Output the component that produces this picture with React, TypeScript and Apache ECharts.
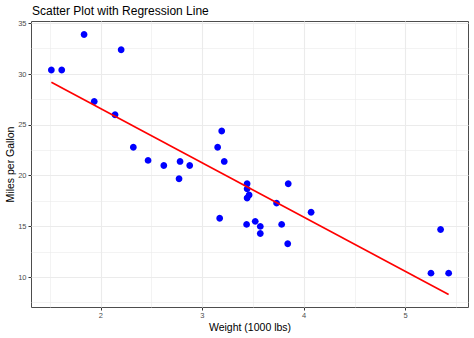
import React, { useEffect, useRef } from "react";
import * as echarts from "echarts";

// mtcars: weight (1000 lbs) and miles per gallon
const weights = [
  2.62, 2.875, 2.32, 3.215, 3.44, 3.46, 3.57, 3.19, 3.15, 3.44, 3.44, 4.07, 3.73, 3.78, 5.25, 5.424,
  5.345, 2.2, 1.615, 1.835, 2.465, 3.52, 3.435, 3.84, 3.845, 1.935, 2.14, 1.513, 3.17, 2.77, 3.57, 2.78,
];
const mpg = [
  21.0, 21.0, 22.8, 21.4, 18.7, 18.1, 14.3, 24.4, 22.8, 19.2, 17.8, 16.4, 17.3, 15.2, 10.4, 10.4,
  14.7, 32.4, 30.4, 33.9, 21.5, 15.5, 15.2, 13.3, 19.2, 27.3, 26.0, 30.4, 15.8, 19.7, 15.0, 21.4,
];
const xTicks = [2, 3, 4, 5];
const xMinorTicks = [1.5, 2.5, 3.5, 4.5, 5.5];
const yTicks = [10, 15, 20, 25, 30, 35];
const yMinorTicks = [7.5, 12.5, 17.5, 22.5, 27.5, 32.5];

export default function App() {
  const ref = useRef<HTMLDivElement>(null);
  useEffect(() => {
    if (!ref.current) return;
    const chart = echarts.init(ref.current, null, { renderer: "svg" });

    // least squares fit
    const n = weights.length;
    const mx = weights.reduce((a, b) => a + b, 0) / n;
    const my = mpg.reduce((a, b) => a + b, 0) / n;
    let sxy = 0;
    let sxx = 0;
    for (let i = 0; i < n; i++) {
      sxy += (weights[i] - mx) * (mpg[i] - my);
      sxx += (weights[i] - mx) ** 2;
    }
    const slope = sxy / sxx;
    const icpt = my - slope * mx;
    const wMin = Math.min(...weights);
    const wMax = Math.max(...weights);
    const fit = [
      [wMin, icpt + slope * wMin],
      [wMax, icpt + slope * wMax],
    ];
    const yVals = [...mpg, fit[0][1], fit[1][1]];
    const yLo = Math.min(...yVals);
    const yHi = Math.max(...yVals);
    const xPad = (wMax - wMin) * 0.05;
    const yPad = (yHi - yLo) * 0.05;

    const gridColor = "#EBEBEB";
    const gridLines = [
      ...xMinorTicks.map((v) => ({ xAxis: v, lineStyle: { color: gridColor, width: 0.6, type: "solid" } })),
      ...yMinorTicks.map((v) => ({ yAxis: v, lineStyle: { color: gridColor, width: 0.6, type: "solid" } })),
      ...xTicks.map((v) => ({ xAxis: v, lineStyle: { color: gridColor, width: 1.1, type: "solid" } })),
      ...yTicks.map((v) => ({ yAxis: v, lineStyle: { color: gridColor, width: 1.1, type: "solid" } })),
    ];

    const labelStyle = { color: "#4D4D4D", fontSize: 7.5, fontFamily: "Liberation Sans, Arial, sans-serif" };
    const nameStyle = { color: "#000", fontSize: 10.5, fontFamily: "Liberation Sans, Arial, sans-serif" };

    chart.setOption({
      animation: false,
      backgroundColor: "#fff",
      title: {
        text: "Scatter Plot with Regression Line",
        left: 27,
        top: 0,
        textStyle: { color: "#000", fontSize: 12, fontWeight: "normal", fontFamily: "Liberation Sans, Arial, sans-serif" },
      },
      grid: {
        left: 31.5,
        right: 5.5,
        top: 21.5,
        bottom: 30.5,
        show: true,
        borderColor: "#4D4D4D",
        borderWidth: 1,
        backgroundColor: "#fff",
        outerBoundsMode: "none",
        containLabel: false,
      },
      xAxis: {
        type: "value",
        min: wMin - xPad,
        max: wMax + xPad,
        name: "Weight (1000 lbs)",
        nameLocation: "middle",
        nameGap: 14,
        nameMoveOverlap: false,
        nameTextStyle: nameStyle,
        axisLine: { show: false },
        axisTick: { show: true, length: 3, lineStyle: { color: "#333" }, customValues: xTicks },
        axisLabel: { ...labelStyle, margin: 4, customValues: xTicks },
        splitLine: { show: false },
      },
      yAxis: {
        type: "value",
        min: yLo - yPad,
        max: yHi + yPad,
        name: "Miles per Gallon",
        nameLocation: "middle",
        nameGap: 16,
        nameMoveOverlap: false,
        nameTextStyle: nameStyle,
        axisLine: { show: false },
        axisTick: { show: true, length: 3, lineStyle: { color: "#333" }, customValues: yTicks },
        axisLabel: { ...labelStyle, margin: 5, customValues: yTicks },
        splitLine: { show: false },
      },
      series: [
        {
          type: "line",
          data: [],
          z: 1,
          silent: true,
          markLine: {
            silent: true,
            z: 1,
            symbol: ["none", "none"],
            label: { show: false },
            emphasis: { disabled: true },
            data: gridLines,
          },
        },
        {
          type: "scatter",
          z: 3,
          symbol: "circle",
          symbolSize: 6.8,
          itemStyle: { color: "#0000FF", opacity: 1 },
          data: weights.map((w, i) => [w, mpg[i]]),
        },
        {
          type: "line",
          z: 4,
          data: fit,
          showSymbol: false,
          symbol: "none",
          lineStyle: { color: "#FF0000", width: 1.6 },
        },
      ],
    });
    return () => chart.dispose();
  }, []);
  return <div ref={ref} style={{ position: "fixed", left: 0, top: 0, width: 474, height: 338 }} />;
}
